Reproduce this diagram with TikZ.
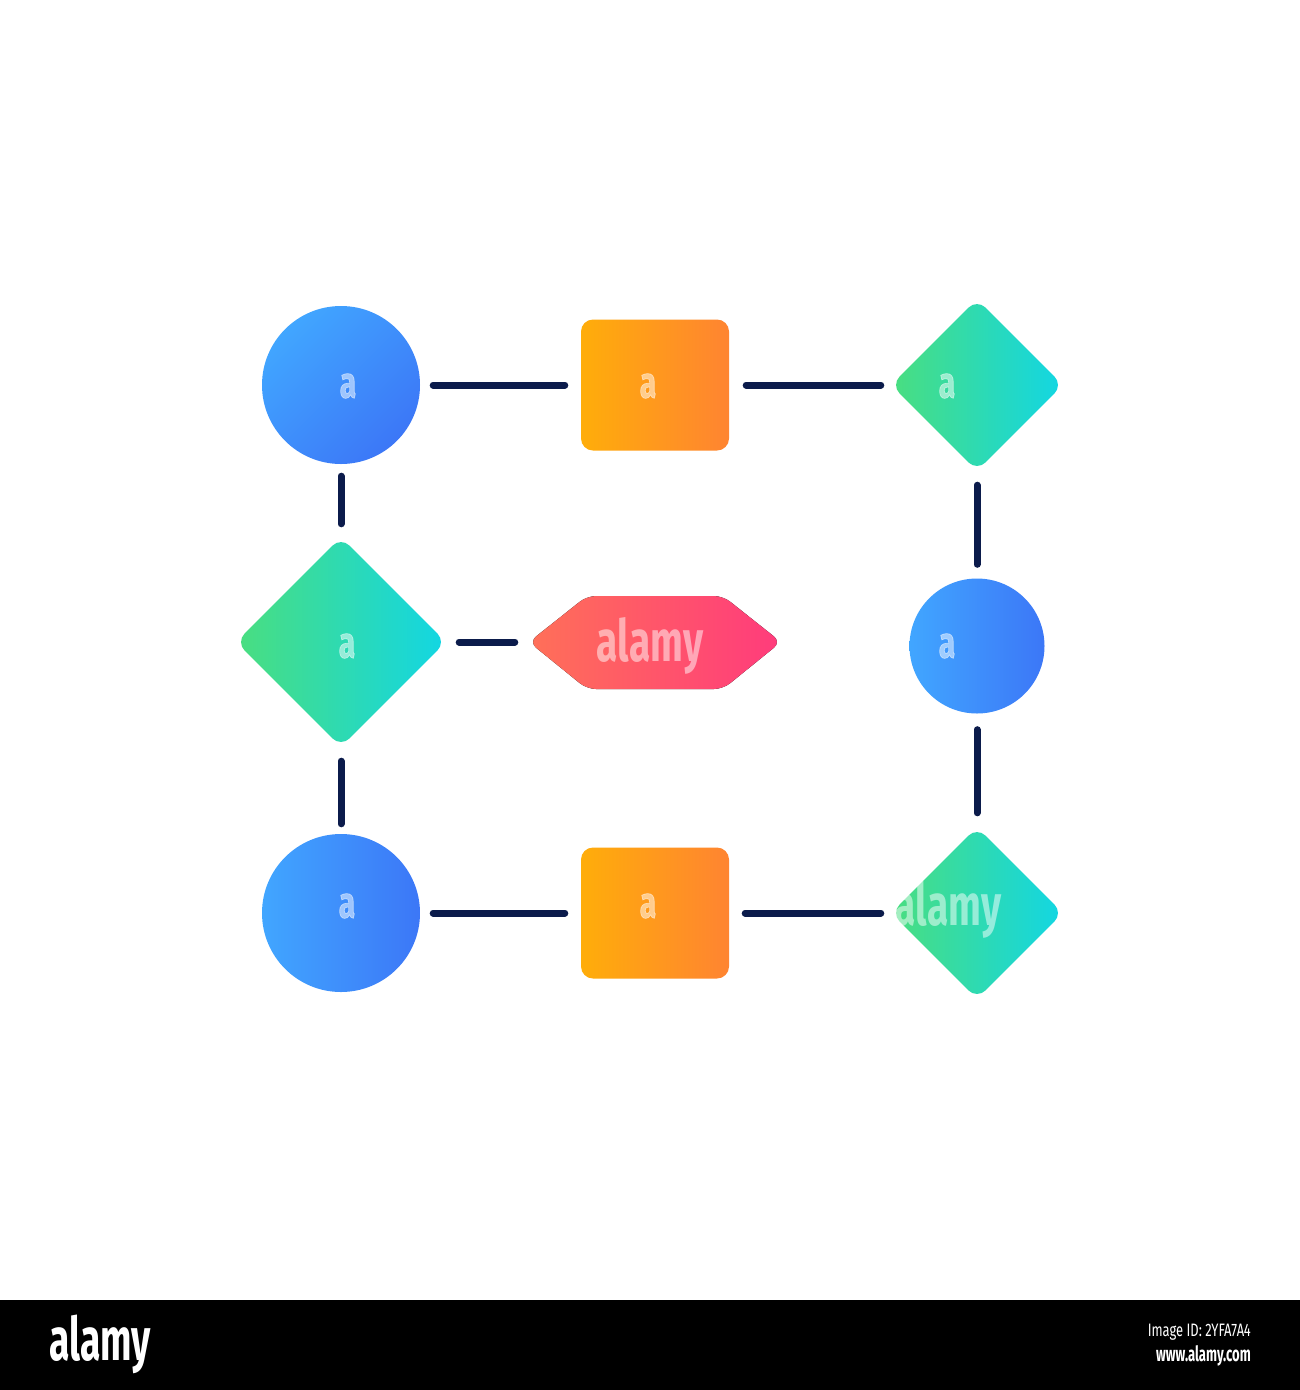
\documentclass[tikz,border=0pt]{standalone}
\usepackage{fontspec}
\setmainfont{Fira Sans}
\newfontfamily\wm[FakeStretch=0.68, FakeBold=1.5]{Fira Sans Bold}
\newfontfamily\wmb[FakeStretch=0.62]{Fira Sans Bold}
\newfontfamily\wmc[FakeStretch=0.67]{Fira Sans Bold}
\newfontfamily\wmr[FakeStretch=0.72]{Fira Sans}
\usetikzlibrary{shapes.geometric}
\definecolor{blueL}{HTML}{41A6FF}
\definecolor{blueD}{HTML}{3C77F7}
\definecolor{oraL}{HTML}{FFAD0A}
\definecolor{oraD}{HTML}{FF8431}
\definecolor{grnL}{HTML}{4ADE7F}
\definecolor{grnD}{HTML}{12D6E4}
\definecolor{redL}{HTML}{FF7058}
\definecolor{redD}{HTML}{FF3B7C}
\definecolor{navy}{HTML}{0B1B4B}
\tikzset{
  circ/.style={circle, inner sep=0pt, left color=blueL, right color=blueD},
  sq/.style={rectangle, rounded corners=12pt, inner sep=0pt, minimum width=148pt, minimum height=131pt, left color=oraL, right color=oraD},
  dia/.style={diamond, aspect=1, rounded corners=12pt, inner sep=0pt, left color=grnL, right color=grnD},
  link/.style={navy, line width=7pt, line cap=round},
  wmark/.style={text=white, opacity=0.5, font=\wm\fontsize{44}{44}\selectfont, inner sep=0pt},
}
\begin{document}
\begin{tikzpicture}[x=1pt,y=-1pt]
\useasboundingbox (0,0) rectangle (1300,1390);
\fill[white] (0,0) rectangle (1300,1390);
\fill[black] (0,1300) rectangle (1300,1390);

% shapes
\node[circ, minimum size=158pt, shading angle=45] (c1) at (341,385) {};
\node[sq] (s1) at (655,385) {};
\node[dia, minimum size=172pt] (d1) at (977,385) {};
\node[dia, minimum size=210pt] (d2) at (341,642) {};
\fill[left color=redL, right color=redD, rounded corners=9pt]
  (529,642) -- (587,596) -- (723,596) -- (781,642) -- (723,689) -- (587,689) -- cycle;
\node[inner sep=0pt, minimum width=250pt, minimum height=92pt] (hx) at (655,642) {};
\node[circ, minimum size=135pt] (c2) at (977,646) {};
\node[circ, minimum size=158pt] (c3) at (341,913) {};
\node[sq] (s2) at (655,913) {};
\node[dia, minimum size=172pt] (d3) at (977,913) {};

% connectors
\draw[link, shorten <=13pt, shorten >=16pt] (c1.east) -- (s1.west);
\draw[link, shorten <=17pt, shorten >=10pt] (s1.east) -- (d1.west);
\draw[link, shorten <=12pt, shorten >=13pt] (c1.south) -- (d2.north);
\draw[link, shorten <=13pt, shorten >=15pt] (d2.east) -- (hx.west);
\draw[link, shorten <=14pt, shorten >=10pt] (d2.south) -- (c3.north);
\draw[link, shorten <=14pt, shorten >=14pt] (d1.south) -- (c2.north);
\draw[link, shorten <=16pt, shorten >=14pt] (c2.south) -- (d3.north);
\draw[link, shorten <=13pt, shorten >=16pt] (c3.east) -- (s2.west);
\draw[link, shorten <=16pt, shorten >=10pt] (s2.east) -- (d3.west);

% watermark marks
\node[wmark] (w1) at (348,386) {a};
\node[wmark] (w2) at (648,386) {a};
\node[wmark] (w3) at (947,386) {a};
\node[wmark] (w4) at (347,646) {a};
\node[wmark] (w5) at (947,646) {a};
\node[wmark] (w6) at (347,906) {a};
\node[wmark] (w7) at (648,906) {a};
\node[wmark, font=\wmc\fontsize{58}{58}\selectfont] (w8) at (650,646) {alamy};
\node[wmark, font=\wmc\fontsize{58}{58}\selectfont] (w9) at (948,910) {alamy};

% bottom bar
\node[text=white, inner sep=0pt, font=\wmb\fontsize{60}{60}\selectfont, anchor=west] (bl) at (49,1344) {alamy};
\node[text=white, inner sep=0pt, font=\wmr\fontsize{18}{18}\selectfont, anchor=east] (bi) at (1251,1332) {Image ID: 2YFA7A4};
\node[text=white, inner sep=0pt, font=\wmb\fontsize{21}{21}\selectfont, anchor=east] (bu) at (1251,1356) {www.alamy.com};
\end{tikzpicture}
\end{document}
